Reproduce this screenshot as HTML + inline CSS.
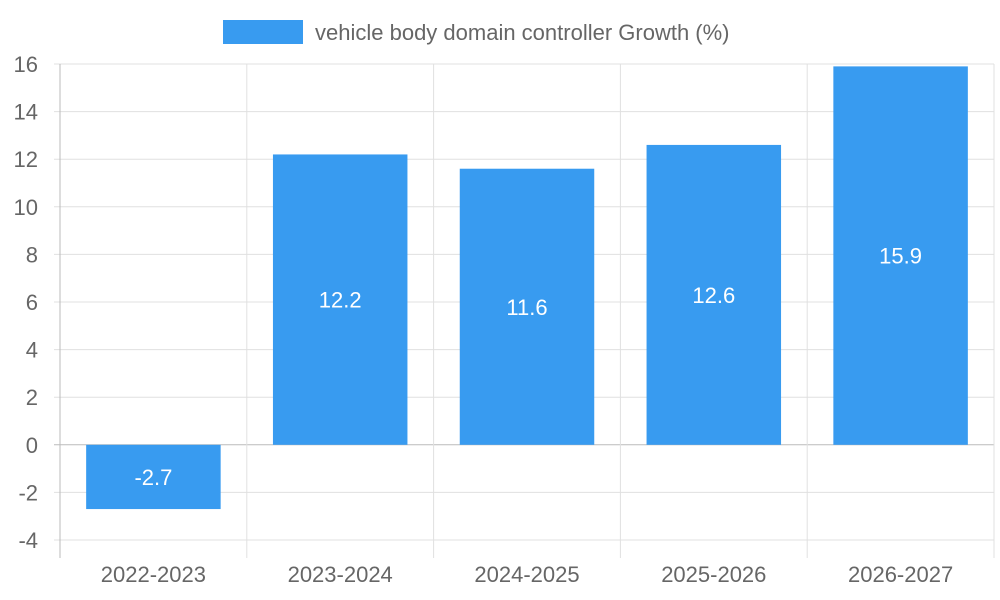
<!DOCTYPE html>
<html><head><meta charset="utf-8"><style>
body{margin:0;background:#fff;}
svg{display:block;font-family:"Liberation Sans",sans-serif;}
</style></head><body>
<svg id="chart" width="1000" height="600">
<g id="grid"></g>
<g id="bars"></g>
<g id="labels"></g>
<g>
<rect x="223" y="20" width="80" height="24" fill="#389bf0"/>
<text x="315" y="40" font-size="22" fill="#666">vehicle body domain controller Growth (%)</text>
</g>
</svg>
<script>
const categories = ["2022-2023","2023-2024","2024-2025","2025-2026","2026-2027"];
const values = [-2.7, 12.2, 11.6, 12.6, 15.9];
const yTicks = [16,14,12,10,8,6,4,2,0,-2,-4];
const NS="http://www.w3.org/2000/svg";
const L=60,R=994,T=64,B=540,yMax=16,yMin=-4;
const y=v=>T+(yMax-v)*(B-T)/(yMax-yMin);
const bw=(R-L)/categories.length;
const x=i=>L+bw*i;
function mk(tag,attrs,parent,txt){const e=document.createElementNS(NS,tag);for(const k in attrs)e.setAttribute(k,attrs[k]);if(txt!==undefined)e.textContent=txt;document.getElementById(parent).appendChild(e);return e;}
yTicks.forEach(t=>{
  const g=mk('line',{x1:L-6,x2:R,y1:y(t),y2:y(t),stroke:t===0?'#bbb':'#e0e0e0','stroke-width':1},'grid');
  
  
  const tl=mk('text',{x:38,y:y(t)+8,'text-anchor':'end','font-size':22,fill:'#666'},'labels',t);
  
  
});
for(let i=0;i<=categories.length;i++){
  const g=mk('line',{x1:x(i),x2:x(i),y1:T,y2:B+18,stroke:i===0?'#bbb':'#e0e0e0','stroke-width':1},'grid');
  
  
}
categories.forEach((c,i)=>{
  const v=values[i];const cx=x(i)+bw/2;const w=bw*0.72;
  const top=Math.min(y(v),y(0)),h=Math.abs(y(v)-y(0));
  const r=mk('rect',{x:cx-w/2,y:top,width:w,height:h,fill:'#389bf0'},'bars');
  
  
  const vl=mk('text',{x:cx,y:top+h/2+8,'text-anchor':'middle','font-size':22,fill:'#fff'},'bars',v);
  
  
  const xl=mk('text',{x:cx,y:582,'text-anchor':'middle','font-size':22,fill:'#666'},'labels',c);
  
  
});
</script>
</body></html>
